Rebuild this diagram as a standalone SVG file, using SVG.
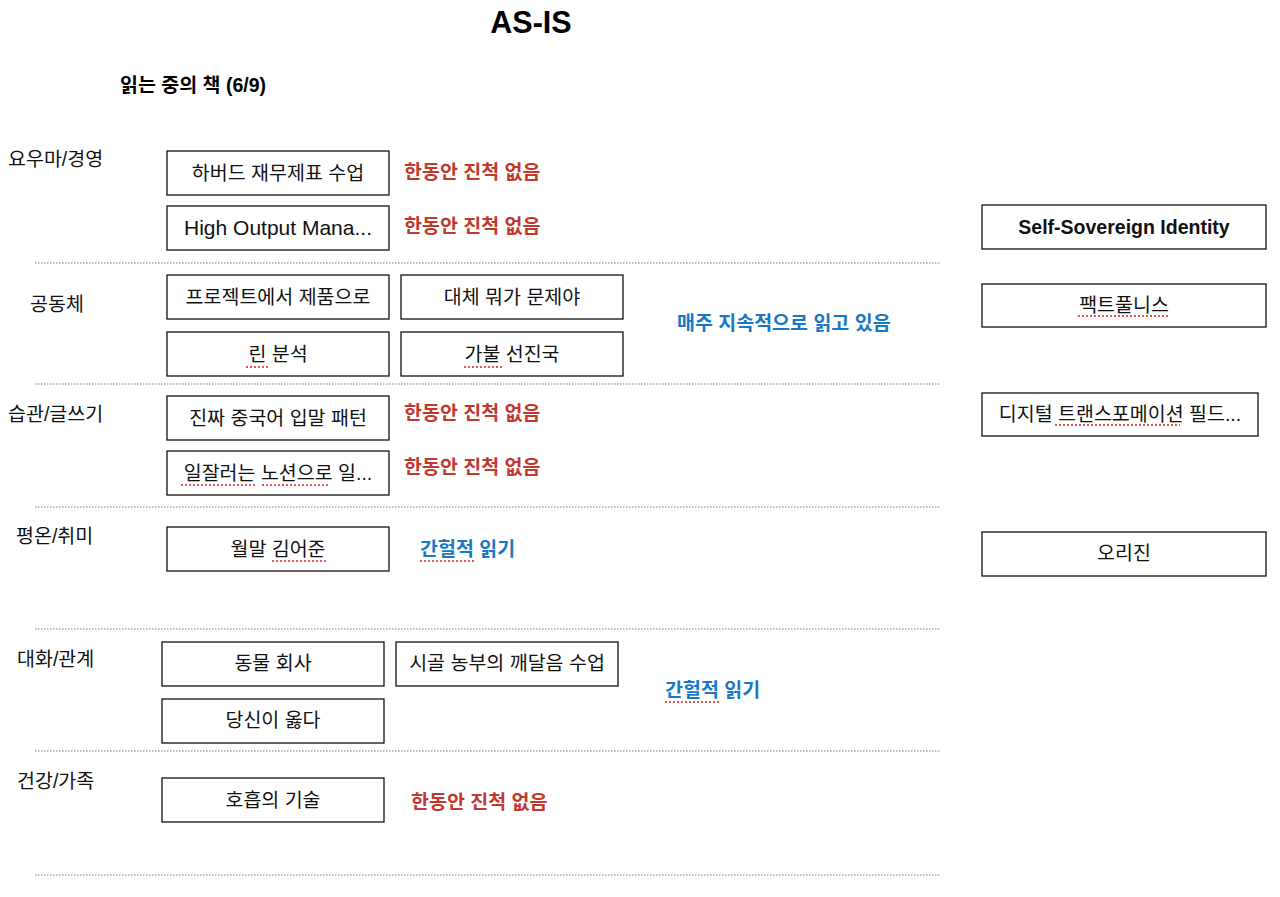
<svg xmlns="http://www.w3.org/2000/svg" width="1280" height="897" viewBox="0 0 1280 897">
<style>
text{font-family:"Liberation Sans","Noto Sans CJK KR",sans-serif;}
.box{fill:#fff;stroke:#111;stroke-width:1.3;}
.bt{font-size:19.5px;fill:#111;text-anchor:middle;}
.cat{font-size:19.5px;fill:#111;}
.red{font-size:19.5px;font-weight:bold;fill:#c3382e;}
.blue{font-size:19.5px;font-weight:bold;fill:#1878c4;}
.div{stroke:#777;stroke-width:1;stroke-dasharray:1.5 1.5;}
.sp{stroke:#e0201a;stroke-width:1.5;stroke-dasharray:2 2;}
</style>
<rect width="1280" height="897" fill="#fff"/>
<text x="531" y="33" text-anchor="middle" style="font-size:30.5px;font-weight:bold;fill:#000">AS-IS</text>
<text x="120" y="92" style="font-size:19.5px;font-weight:bold;fill:#000">읽는 중의 책 (6/9)</text>

<g id="dividers">
<line class="div" x1="35" y1="263" x2="940" y2="263"/>
<line class="div" x1="35" y1="384" x2="940" y2="384"/>
<line class="div" x1="35" y1="507" x2="940" y2="507"/>
<line class="div" x1="35" y1="629" x2="940" y2="629"/>
<line class="div" x1="35" y1="751" x2="940" y2="751"/>
<line class="div" x1="35" y1="875" x2="940" y2="875"/>
</g>

<g id="categories">
<text class="cat" x="8" y="166">요우마/경영</text>
<text class="cat" x="30" y="311">공동체</text>
<text class="cat" x="8" y="421">습관/글쓰기</text>
<text class="cat" x="16" y="543">평온/취미</text>
<text class="cat" x="17" y="666">대화/관계</text>
<text class="cat" x="17" y="788">건강/가족</text>
</g>

<g id="n1"><rect class="box" x="167" y="151" width="222" height="44"/><text class="bt" x="278" y="180">하버드 재무제표 수업</text></g>
<g id="n2"><rect class="box" x="167" y="206" width="222" height="44"/><text class="bt" x="278" y="235" style="font-size:21px">High Output Mana...</text></g>
<g id="n3"><rect class="box" x="167" y="275" width="222" height="44"/><text class="bt" x="278" y="304">프로젝트에서 제품으로</text></g>
<g id="n4"><rect class="box" x="401" y="275" width="222" height="44"/><text class="bt" x="512" y="304">대체 뭐가 문제야</text></g>
<g id="n5"><rect class="box" x="167" y="332" width="222" height="44"/><text class="bt" x="278" y="361">린 분석</text></g>
<g id="n6"><rect class="box" x="401" y="332" width="222" height="44"/><text class="bt" x="512" y="361">가불 선진국</text></g>
<g id="n7"><rect class="box" x="167" y="396" width="222" height="44"/><text class="bt" x="278" y="425">진짜 중국어 입말 패턴</text></g>
<g id="n8"><rect class="box" x="167" y="451" width="222" height="44"/><text class="bt" x="278" y="480">일잘러는 노션으로 일...</text></g>
<g id="n9"><rect class="box" x="167" y="527" width="222" height="44"/><text class="bt" x="278" y="556">월말 김어준</text></g>
<g id="n10"><rect class="box" x="162" y="642" width="222" height="44"/><text class="bt" x="273" y="670">동물 회사</text></g>
<g id="n11"><rect class="box" x="396" y="642" width="222" height="44"/><text class="bt" x="507" y="670">시골 농부의 깨달음 수업</text></g>
<g id="n12"><rect class="box" x="162" y="699" width="222" height="44"/><text class="bt" x="273" y="727">당신이 옳다</text></g>
<g id="n13"><rect class="box" x="162" y="778" width="222" height="44"/><text class="bt" x="273" y="807">호흡의 기술</text></g>
<g id="n14"><rect class="box" x="982" y="205" width="284" height="44"/><text class="bt" x="1124" y="234" style="font-weight:bold">Self-Sovereign Identity</text></g>
<g id="n15"><rect class="box" x="982" y="284" width="284" height="43"/><text class="bt" x="1124" y="312">팩트풀니스</text></g>
<g id="n16"><rect class="box" x="982" y="393" width="276" height="43"/><text class="bt" x="1120" y="421">디지털 트랜스포메이션 필드...</text></g>
<g id="n17"><rect class="box" x="982" y="532" width="284" height="44"/><text class="bt" x="1124" y="560">오리진</text></g>

<g id="status">
<text class="red" x="404" y="179">한동안 진척 없음</text>
<text class="red" x="404" y="233">한동안 진척 없음</text>
<text class="blue" x="677" y="330">매주 지속적으로 읽고 있음</text>
<text class="red" x="404" y="420">한동안 진척 없음</text>
<text class="red" x="404" y="474">한동안 진척 없음</text>
<text class="blue" x="420" y="556">간헐적 읽기</text>
<text class="blue" x="665" y="697">간헐적 읽기</text>
<text class="red" x="411" y="809">한동안 진척 없음</text>
</g>

<g id="spellcheck">
<line class="sp" x1="246" y1="367" x2="268" y2="367"/>
<line class="sp" x1="464" y1="367" x2="502" y2="367"/>
<line class="sp" x1="181" y1="485" x2="257" y2="485"/>
<line class="sp" x1="262" y1="485" x2="330" y2="485"/>
<line class="sp" x1="272" y1="561" x2="328" y2="561"/>
<line class="sp" x1="420" y1="561" x2="476" y2="561"/>
<line class="sp" x1="665" y1="702" x2="721" y2="702"/>
<line class="sp" x1="1078" y1="316" x2="1168" y2="316"/>
<line class="sp" x1="1055" y1="425" x2="1180" y2="425"/>
</g>

<g id="connectors"/>
</svg>
